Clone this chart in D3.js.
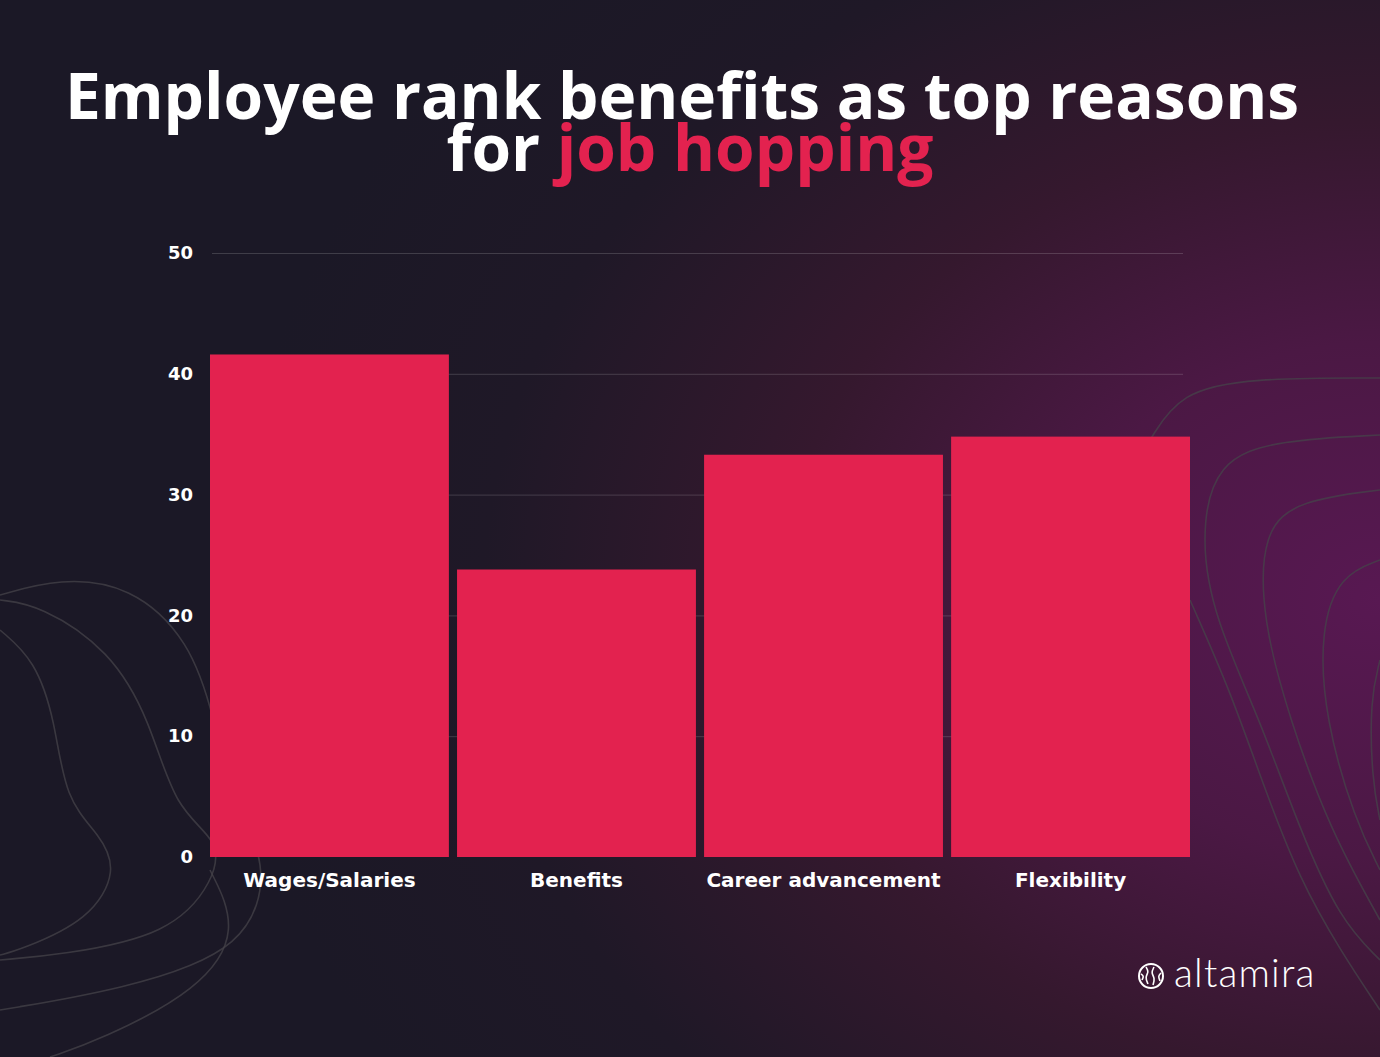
<!DOCTYPE html>
<html>
<head>
<meta charset="utf-8">
<script src="https://cdn.jsdelivr.net/npm/d3@7"></script>
<style>
  html, body { margin: 0; padding: 0; background: #1b1826; }
  svg { display: block; }
</style>
</head>
<body>
<div id="chart"></div>
<script>
// 数据
const categories = ['Wages/Salaries', 'Benefits', 'Career advancement', 'Flexibility'];
const values = [41.6, 23.8, 33.3, 34.8];
const yTicks = [0, 10, 20, 30, 40, 50];

// 配置
const W = 1380, H = 1057;
const plot = { left: 210, right: 1190, top: 253, bottom: 857 };
const barColor = '#e3224f';

const svg = d3.select('#chart').append('svg')
    .attr('width', W)
    .attr('height', H);

const defs = svg.append('defs');

// 背景渐变（右侧紫色光晕）
const bg = defs.append('radialGradient')
    .attr('id', 'bg-glow')
    .attr('gradientUnits', 'userSpaceOnUse')
    .attr('cx', 1380).attr('cy', 600)
    .attr('r', 1150)
    .attr('gradientTransform', 'translate(1380,600) scale(1,0.8) translate(-1380,-600)');
bg.append('stop').attr('offset', '0%').attr('stop-color', '#581852');
bg.append('stop').attr('offset', '28%').attr('stop-color', '#4b1844');
bg.append('stop').attr('offset', '52%').attr('stop-color', '#35182e');
bg.append('stop').attr('offset', '78%').attr('stop-color', '#1f1827');
bg.append('stop').attr('offset', '100%').attr('stop-color', '#1b1826');

svg.append('rect')
    .attr('width', W).attr('height', H)
    .attr('fill', '#1b1826');
svg.append('rect')
    .attr('width', W).attr('height', H)
    .attr('fill', 'url(#bg-glow)');

// 装饰等高线
const contourLine = d3.line().curve(d3.curveBasis);
const contours = [
    [[0, 595], [60, 578], [130, 585], [190, 640], [215, 720], [230, 800], [270, 860], [250, 950], [120, 990], [0, 1010]],
    [[0, 600], [40, 605], [110, 650], [150, 720], [175, 810], [220, 840], [215, 880], [170, 935], [60, 955], [0, 960]],
    [[0, 630], [35, 660], [55, 720], [65, 800], [100, 835], [118, 870], [90, 920], [20, 950], [0, 955]],
    [[210, 870], [240, 930], [200, 990], [100, 1040], [50, 1057]],
    [[1380, 378], [1250, 378], [1180, 392], [1150, 440]],
    [[1380, 435], [1280, 440], [1215, 460], [1200, 540], [1215, 620], [1260, 720], [1300, 830], [1340, 920], [1380, 960]],
    [[1380, 490], [1300, 500], [1262, 530], [1262, 620], [1290, 720], [1330, 830], [1380, 920]],
    [[1380, 560], [1340, 575], [1320, 630], [1325, 720], [1355, 820], [1380, 870]],
    [[1380, 660], [1370, 700], [1372, 780], [1380, 820]],
    [[1190, 600], [1230, 690], [1265, 790], [1300, 880], [1340, 950], [1380, 1010]]
];
svg.append('g')
    .selectAll('path')
    .data(contours)
    .join('path')
    .attr('d', contourLine)
    .attr('fill', 'none')
    .attr('stroke', '#45434a')
    .attr('stroke-opacity', 0.75)
    .attr('stroke-width', 1.6);

// 标题
const titleStyle = sel => sel
    .attr('text-anchor', 'middle')
    .attr('font-family', '"Open Sans", sans-serif')
    .attr('font-weight', 700)
    .attr('font-size', 64)
    .attr('fill', '#ffffff');
svg.append('text')
    .call(titleStyle)
    .attr('x', 682).attr('y', 119)
    .text('Employee rank benefits as top reasons');
const line2 = svg.append('text')
    .call(titleStyle)
    .attr('x', 690).attr('y', 171);
line2.append('tspan').text('for ');
line2.append('tspan').attr('fill', barColor).text('job hopping');

// 比例尺
const x = d3.scaleBand()
    .domain(categories)
    .range([plot.left, plot.right])
    .paddingInner(0.033)
    .paddingOuter(0);

const y = d3.scaleLinear()
    .domain([0, 50])
    .range([plot.bottom, plot.top]);

// 网格线
svg.append('g')
    .selectAll('line')
    .data(yTicks.filter(d => d > 0))
    .join('line')
    .attr('x1', 212).attr('x2', 1183)
    .attr('y1', d => y(d) + 0.5).attr('y2', d => y(d) + 0.5)
    .attr('stroke', '#ffffff')
    .attr('stroke-opacity', 0.16)
    .attr('stroke-width', 1);

// y 轴
const yAxis = d3.axisLeft(y)
    .tickValues(yTicks)
    .tickSize(0)
    .tickPadding(0);
const yG = svg.append('g')
    .attr('transform', 'translate(193,0)')
    .call(yAxis);
yG.select('.domain').remove();
yG.selectAll('text')
    .attr('fill', '#ffffff')
    .attr('font-family', '"DejaVu Sans", sans-serif')
    .attr('font-weight', 700)
    .attr('font-size', 18);

// 柱子
svg.append('g')
    .selectAll('rect')
    .data(values)
    .join('rect')
    .attr('x', (d, i) => x(categories[i]))
    .attr('y', d => y(d))
    .attr('width', x.bandwidth())
    .attr('height', d => y(0) - y(d))
    .attr('fill', barColor);

// x 轴
const xAxis = d3.axisBottom(x)
    .tickSize(0)
    .tickPadding(0);
const xG = svg.append('g')
    .attr('transform', `translate(0,${plot.bottom + 11})`)
    .call(xAxis);
xG.select('.domain').remove();
xG.selectAll('text')
    .attr('fill', '#ffffff')
    .attr('dy', '0.95em')
    .attr('font-family', '"DejaVu Sans", sans-serif')
    .attr('font-weight', 700)
    .attr('font-size', 20);

// 标志
const logo = svg.append('g').attr('transform', 'translate(1151,976)');
logo.append('circle')
    .attr('r', 12)
    .attr('fill', 'none')
    .attr('stroke', '#ffffff')
    .attr('stroke-width', 2);
logo.selectAll('path.inner')
    .data([
        [[-5, -9], [-2, -4], [-6, 1], [-3, 8]],
        [[3, -9], [0, -3], [4, 2], [2, 9]],
        [[-10, -2], [-7, 0], [-9, 4]],
        [[10, -3], [7, 0], [9, 5]]
    ])
    .join('path')
    .attr('class', 'inner')
    .attr('d', contourLine)
    .attr('fill', 'none')
    .attr('stroke', '#ffffff')
    .attr('stroke-width', 1.6);
svg.append('text')
    .attr('x', 1174).attr('y', 987)
    .attr('font-family', 'Lato, sans-serif')
    .attr('font-weight', 300)
    .attr('font-size', 39)
    .attr('letter-spacing', 1.2)
    .attr('fill', '#ffffff')
    .text('altamira');
</script>
</body>
</html>
